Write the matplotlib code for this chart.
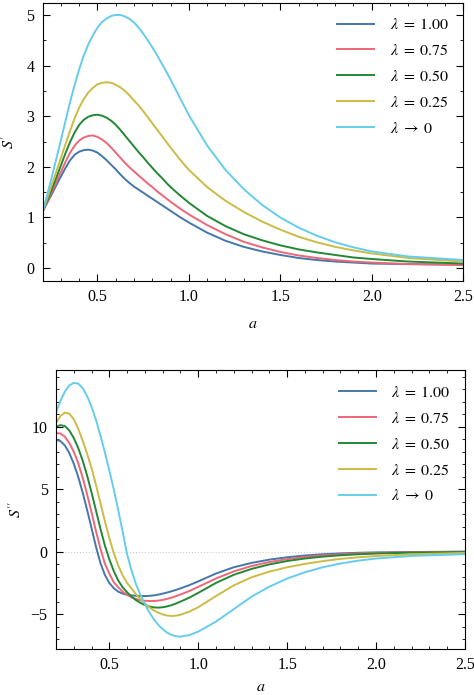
import matplotlib
matplotlib.use('Agg')
import matplotlib.pyplot as plt
from matplotlib.ticker import MultipleLocator

plt.rcParams['font.family'] = 'serif'
plt.rcParams['font.serif'] = ['Liberation Serif', 'DejaVu Serif']
plt.rcParams['mathtext.fontset'] = 'stix'
plt.rcParams['font.size'] = 11.5

# a values (same grid for both panels)
a = [0.200, 0.225, 0.250, 0.275, 0.300, 0.325, 0.350, 0.375, 0.400, 0.425,
     0.450, 0.475, 0.500, 0.525, 0.550, 0.575, 0.600, 0.625, 0.650, 0.675,
     0.700, 0.725, 0.750, 0.775, 0.800, 0.825, 0.850, 0.875, 0.900, 0.950,
     1.00, 1.10, 1.20, 1.30, 1.40, 1.50, 1.60, 1.70, 1.80, 1.90, 2.00, 2.20, 2.50]

labels = [r'$\lambda\;=\;1.00$', r'$\lambda\;=\;0.75$', r'$\lambda\;=\;0.50$',
          r'$\lambda\;=\;0.25$', r'$\lambda\;\to\;0$']
colors = ['#4477AA', '#EE6677', '#228833', '#CCBB44', '#66CCEE']

# S' (top panel)
s1_100 = [1.12, 1.29, 1.46, 1.64, 1.81, 1.98, 2.13, 2.24, 2.30, 2.33,
          2.34, 2.32, 2.28, 2.21, 2.13, 2.04, 1.95, 1.85, 1.76, 1.68,
          1.61, 1.55, 1.49, 1.43, 1.37, 1.31, 1.25, 1.19, 1.13, 1.01,
          0.90, 0.70, 0.54, 0.42, 0.33, 0.26, 0.20, 0.16, 0.13, 0.11, 0.09, 0.08, 0.07]
s1_075 = [1.12, 1.31, 1.50, 1.70, 1.90, 2.10, 2.28, 2.42, 2.52, 2.58,
          2.61, 2.62, 2.59, 2.54, 2.47, 2.38, 2.28, 2.18, 2.08, 1.99,
          1.91, 1.83, 1.75, 1.67, 1.60, 1.52, 1.45, 1.38, 1.31, 1.18,
          1.06, 0.85, 0.67, 0.52, 0.41, 0.32, 0.25, 0.20, 0.16, 0.13, 0.11, 0.08, 0.06]
s1_050 = [1.12, 1.34, 1.56, 1.79, 2.03, 2.27, 2.49, 2.68, 2.83, 2.93,
          2.99, 3.02, 3.03, 3.01, 2.97, 2.91, 2.83, 2.73, 2.62, 2.51,
          2.40, 2.29, 2.19, 2.08, 1.98, 1.88, 1.79, 1.69, 1.60, 1.44,
          1.29, 1.03, 0.83, 0.67, 0.55, 0.45, 0.37, 0.31, 0.26, 0.21, 0.18, 0.13, 0.09]
s1_025 = [1.12, 1.38, 1.65, 1.91, 2.18, 2.45, 2.71, 2.96, 3.17, 3.34,
          3.47, 3.56, 3.63, 3.66, 3.67, 3.66, 3.62, 3.57, 3.50, 3.41,
          3.31, 3.21, 3.10, 2.98, 2.86, 2.74, 2.62, 2.50, 2.38, 2.15,
          1.94, 1.60, 1.33, 1.11, 0.92, 0.76, 0.62, 0.51, 0.42, 0.35, 0.29, 0.20, 0.13]
s1_000 = [1.12, 1.45, 1.80, 2.16, 2.53, 2.91, 3.28, 3.62, 3.93, 4.20,
          4.42, 4.60, 4.75, 4.86, 4.93, 4.98, 5.00, 5.00, 4.97, 4.92,
          4.85, 4.75, 4.63, 4.50, 4.36, 4.21, 4.05, 3.89, 3.72, 3.37,
          3.02, 2.42, 1.94, 1.56, 1.25, 1.00, 0.80, 0.64, 0.51, 0.41, 0.33, 0.23, 0.16]

# S'' (bottom panel)
s2_100 = [8.95, 8.85, 8.50, 7.90, 7.05, 6.00, 4.75, 3.35, 1.90, 0.40,
          -0.90, -1.85, -2.50, -2.92, -3.20, -3.36, -3.45, -3.50, -3.53, -3.55,
          -3.55, -3.54, -3.50, -3.44, -3.36, -3.27, -3.17, -3.06, -2.94, -2.68,
          -2.38, -1.75, -1.25, -0.90, -0.64, -0.45, -0.31, -0.21, -0.14, -0.09, -0.06, -0.03, 0.00]
s2_075 = [9.50, 9.45, 9.20, 8.70, 8.00, 7.10, 5.95, 4.60, 3.15, 1.65,
          0.25, -0.95, -1.75, -2.45, -2.85, -3.20, -3.45, -3.65, -3.79, -3.88,
          -3.93, -3.95, -3.95, -3.92, -3.86, -3.78, -3.68, -3.56, -3.43, -3.15,
          -2.82, -2.15, -1.58, -1.15, -0.83, -0.60, -0.43, -0.30, -0.21, -0.14, -0.10, -0.05, -0.01]
s2_050 = [10.00, 10.12, 10.05, 9.70, 9.10, 8.30, 7.30, 6.10, 4.75, 3.30,
          1.85, 0.50, -0.60, -1.55, -2.30, -2.85, -3.25, -3.60, -3.88, -4.10,
          -4.27, -4.39, -4.46, -4.48, -4.45, -4.38, -4.28, -4.15, -4.00, -3.68,
          -3.30, -2.50, -1.85, -1.38, -1.02, -0.75, -0.55, -0.40, -0.29, -0.21, -0.15, -0.08, -0.03]
s2_025 = [10.30, 10.85, 11.12, 11.05, 10.60, 9.85, 8.90, 7.85, 6.70, 5.35,
          3.90, 2.45, 1.10, -0.10, -1.10, -1.90, -2.50, -2.95, -3.40, -3.80,
          -4.15, -4.45, -4.70, -4.88, -5.02, -5.11, -5.15, -5.12, -5.05, -4.80,
          -4.45, -3.55, -2.70, -2.05, -1.60, -1.25, -0.98, -0.76, -0.58, -0.45, -0.35, -0.21, -0.10]
s2_000 = [11.10, 12.05, 12.80, 13.30, 13.50, 13.45, 13.10, 12.45, 11.60, 10.55,
          9.30, 7.95, 6.50, 5.00, 3.35, 1.60, -0.20, -1.50, -2.60, -3.45,
          -4.20, -4.85, -5.40, -5.85, -6.20, -6.48, -6.66, -6.77, -6.80, -6.68,
          -6.40, -5.60, -4.60, -3.60, -2.80, -2.15, -1.65, -1.25, -0.95, -0.72, -0.55, -0.34, -0.20]

top_series = [s1_100, s1_075, s1_050, s1_025, s1_000]
bot_series = [s2_100, s2_075, s2_050, s2_025, s2_000]

fig = plt.figure(figsize=(4.74, 6.95), dpi=100)
ax1 = fig.add_axes([0.090, 0.596, 0.887, 0.400])
ax2 = fig.add_axes([0.118, 0.066, 0.863, 0.401])

for ys, c, lab in zip(top_series, colors, labels):
    ax1.plot(a, ys, color=c, lw=1.4, label=lab)
for ys, c, lab in zip(bot_series, colors, labels):
    ax2.plot(a, ys, color=c, lw=1.4, label=lab)
ax2.axhline(0, color='#cccccc', lw=0.8, ls=':', zorder=0)

ax1.set_xlim(0.2, 2.5)
ax1.set_ylim(-0.25, 5.24)
ax1.yaxis.set_major_locator(MultipleLocator(1))
ax1.yaxis.set_minor_locator(MultipleLocator(0.5))
ax1.set_ylabel(r"$S'$", labelpad=6)
ax1.set_xlabel(r'$a$', labelpad=8)

ax2.set_xlim(0.2, 2.5)
ax2.set_ylim(-7.8, 14.5)
ax2.yaxis.set_major_locator(MultipleLocator(5))
ax2.yaxis.set_minor_locator(MultipleLocator(1))
ax2.set_ylabel(r"$S''$", labelpad=4)
ax2.set_xlabel(r'$a$', labelpad=4)

for ax in (ax1, ax2):
    ax.xaxis.set_major_locator(MultipleLocator(0.5))
    ax.xaxis.set_minor_locator(MultipleLocator(0.1))
    ax.tick_params(which='both', direction='in', top=True, right=True)
    ax.tick_params(which='major', length=5, width=0.8, pad=6)
    ax.tick_params(which='minor', length=2.5, width=0.6)
    for sp in ax.spines.values():
        sp.set_linewidth(0.8)
    ax.legend(loc='upper right', frameon=False, handlelength=2.3,
              handletextpad=1.0, labelspacing=0.62, fontsize=11.5)

fig.savefig('out.png', dpi=100)
